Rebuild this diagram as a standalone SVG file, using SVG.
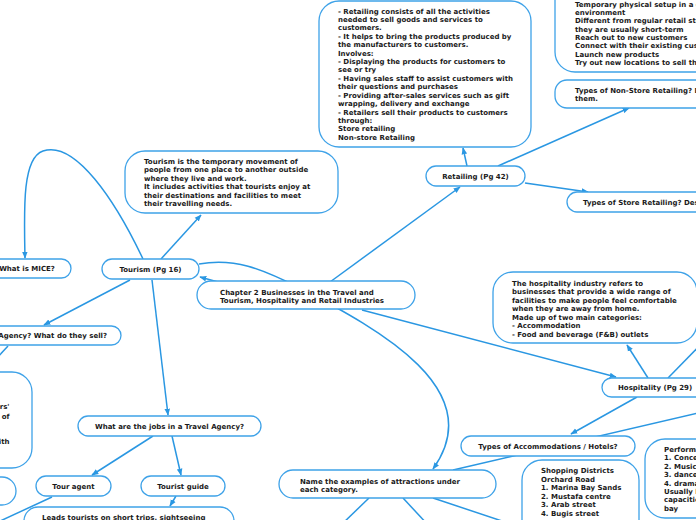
<svg xmlns="http://www.w3.org/2000/svg" width="696" height="520" viewBox="0 0 696 520">
<defs>
<marker id="ah" viewBox="0 0 10 10" refX="9" refY="5" markerWidth="7" markerHeight="7" markerUnits="userSpaceOnUse" orient="auto">
<path d="M0,1 L10,5 L0,9 z" fill="#2a97e2"/>
</marker>
<style>
.n rect{fill:#fff;stroke:#3ea2e8;stroke-width:1.3}
text{font-family:"DejaVu Sans",Verdana,sans-serif;font-weight:bold;font-size:7px;fill:#1a1a1a}
.m{text-anchor:middle}
.e{text-anchor:end}
#connectors path{stroke:#2a97e2;stroke-width:1.5;fill:none}
.a{marker-end:url(#ah)}
</style>
</defs>
<rect width="696" height="520" fill="#fff"/>
<g id="connectors">
<path class="a" d="M218,282 L200,277"/>
<path class="a" d="M199,264 C235,258 260,268 300,288 C380,330 490,390 433,469"/>
<path class="a" d="M330,282 L460,187"/>
<path class="a" d="M362,310 L616,377"/>
<path class="a" d="M161,259 L201,215"/>
<path class="a" d="M143,259 C115,200 75,140 43,151 C22,158 24,210 25,258"/>
<path class="a" d="M130,280 L44,325"/>
<path class="a" d="M152,280 L168,415"/>
<path d="M8,346 L-5,360"/>
<path class="a" d="M153,436 L92,475"/>
<path class="a" d="M172,436 L181,475"/>
<path class="a" d="M176,496 L170,506"/>
<path d="M52,497 L-2,522"/>
<path class="a" d="M467,166 L463,148"/>
<path class="a" d="M498,166 L629,108"/>
<path class="a" d="M525,183 L588,192"/>
<path class="a" d="M648,378 L627,345"/>
<path d="M668,378 L710,335"/>
<path class="a" d="M637,397 L571,434"/>
<path d="M453,470 L720,408"/>
<path d="M369,498 L340,526"/>
<path d="M403,498 L429,526"/>
<path d="M433,498 L505,522"/>
</g>
<g id="retail-desc" class="n">
<rect x="319" y="1" width="212" height="146" rx="20"/>
<text x="338" y="13.5">- Retailing consists of all the activities</text>
<text x="338" y="21.9">needed to sell goods and services to</text>
<text x="338" y="30.3">customers.</text>
<text x="338" y="38.8">- It helps to bring the products produced by</text>
<text x="338" y="47.2">the manufacturers to customers.</text>
<text x="338" y="55.6">Involves:</text>
<text x="338" y="64">- Displaying the products for customers to</text>
<text x="338" y="72.4">see or try</text>
<text x="338" y="80.9">- Having sales staff to assist customers with</text>
<text x="338" y="89.3">their questions and purchases</text>
<text x="338" y="97.7">- Providing after-sales services such as gift</text>
<text x="338" y="106.1">wrapping, delivery and exchange</text>
<text x="338" y="114.5">- Retailers sell their products to customers</text>
<text x="338" y="123">through:</text>
<text x="338" y="131.4">Store retailing</text>
<text x="338" y="139.8">Non-store Retailing</text>
</g>
<g id="popup-desc" class="n">
<rect x="555" y="-30" width="200" height="102" rx="20"/>
<text x="575" y="6.5">Temporary physical setup in a crowded</text>
<text x="575" y="14.9">environment</text>
<text x="575" y="23.2">Different from regular retail stores as</text>
<text x="575" y="31.6">they are usually short-term</text>
<text x="575" y="39.9">Reach out to new customers</text>
<text x="575" y="48.3">Connect with their existing customers</text>
<text x="575" y="56.6">Launch new products</text>
<text x="575" y="65">Try out new locations to sell their products</text>
</g>
<g id="nonstore" class="n">
<rect x="555" y="80" width="200" height="28" rx="12"/>
<text x="575" y="92.5">Types of Non-Store Retailing? Describe</text>
<text x="575" y="101">them.</text>
</g>
<g id="retailing" class="n">
<rect x="426" y="166" width="99" height="20" rx="10"/>
<text class="m" x="475.5" y="178.5">Retailing (Pg 42)</text>
</g>
<g id="store" class="n">
<rect x="567" y="192" width="190" height="20" rx="10"/>
<text x="583" y="204.5">Types of Store Retailing? Describe them.</text>
</g>
<g id="tourism-desc" class="n">
<rect x="125" y="151" width="213" height="62" rx="20"/>
<text x="144" y="163.5">Tourism is the temporary movement of</text>
<text x="144" y="172">people from one place to another outside</text>
<text x="144" y="180.5">where they live and work.</text>
<text x="144" y="189">It includes activities that tourists enjoy at</text>
<text x="144" y="197.5">their destinations and facilities to meet</text>
<text x="144" y="206">their travelling needs.</text>
</g>
<g id="tourism" class="n">
<rect x="102" y="259" width="97" height="20" rx="10"/>
<text class="m" x="150.5" y="271.5">Tourism (Pg 16)</text>
</g>
<g id="mice" class="n">
<rect x="-17" y="259" width="88" height="19" rx="9.5"/>
<text class="m" x="27" y="271">What is MICE?</text>
</g>
<g id="chapter" class="n">
<rect x="197" y="281" width="218" height="28" rx="14"/>
<text x="220" y="294.5">Chapter 2 Businesses in the Travel and</text>
<text x="220" y="302.9">Tourism, Hospitality and Retail Industries</text>
</g>
<g id="agency" class="n">
<rect x="-60" y="326" width="181" height="19" rx="9.5"/>
<text class="e" x="107" y="338">Travel Agency? What do they sell?</text>
</g>
<g id="agency-desc" class="n">
<rect x="-180" y="372" width="212" height="96" rx="20"/>
<text class="e" x="9.5" y="409">travellers'</text>
<text class="e" x="9.5" y="419">of</text>
<text class="e" x="9.5" y="443.5">with</text>
</g>
<g id="left-small" class="n">
<rect x="-100" y="477" width="116" height="28" rx="14"/>
</g>
<g id="jobs" class="n">
<rect x="78" y="416" width="183" height="20" rx="10"/>
<text class="m" x="169.5" y="428.5">What are the jobs in a Travel Agency?</text>
</g>
<g id="tour-agent" class="n">
<rect x="36" y="476" width="75" height="20" rx="10"/>
<text class="m" x="73.5" y="488.5">Tour agent</text>
</g>
<g id="tourist-guide" class="n">
<rect x="141" y="476" width="84" height="20" rx="10"/>
<text class="m" x="183" y="488.5">Tourist guide</text>
</g>
<g id="leads" class="n">
<rect x="24" y="507" width="210" height="40" rx="14"/>
<text x="42" y="519.5">Leads tourists on short trips, sightseeing</text>
</g>
<g id="hosp-desc" class="n">
<rect x="493" y="272" width="204" height="71" rx="20"/>
<text x="512" y="285.8">The hospitality industry refers to</text>
<text x="512" y="294.3">businesses that provide a wide range of</text>
<text x="512" y="302.8">facilities to make people feel comfortable</text>
<text x="512" y="311.3">when they are away from home.</text>
<text x="512" y="319.8">Made up of two main categories:</text>
<text x="512" y="328.3">- Accommodation</text>
<text x="512" y="336.8">- Food and beverage (F&amp;B) outlets</text>
</g>
<g id="hospitality" class="n">
<rect x="602" y="378" width="108" height="19" rx="9.5"/>
<text x="618" y="390">Hospitality (Pg 29)</text>
</g>
<g id="accommodations" class="n">
<rect x="461" y="436" width="174" height="20" rx="10"/>
<text class="m" x="548" y="448.5">Types of Accommodations / Hotels?</text>
</g>
<g id="name-examples" class="n">
<rect x="279" y="470" width="217" height="28" rx="14"/>
<text x="300" y="483.5">Name the examples of attractions under</text>
<text x="300" y="492">each category.</text>
</g>
<g id="shopping" class="n">
<rect x="522" y="460" width="117" height="80" rx="20"/>
<text x="541" y="473.2">Shopping Districts</text>
<text x="541" y="481.7">Orchard Road</text>
<text x="541" y="490.2">1. Marina Bay Sands</text>
<text x="541" y="498.7">2. Mustafa centre</text>
<text x="541" y="507.2">3. Arab street</text>
<text x="541" y="515.7">4. Bugis street</text>
</g>
<g id="performance" class="n">
<rect x="645" y="439" width="120" height="79" rx="20"/>
<text x="664" y="451.8">Performing Arts</text>
<text x="664" y="460.2">1. Concerts</text>
<text x="664" y="468.7">2. Musicals</text>
<text x="664" y="477.1">3. dance</text>
<text x="664" y="485.5">4. drama</text>
<text x="664" y="494">Usually held at</text>
<text x="664" y="502.4">capacities</text>
<text x="664" y="510.8">bay</text>
</g>
</svg>
